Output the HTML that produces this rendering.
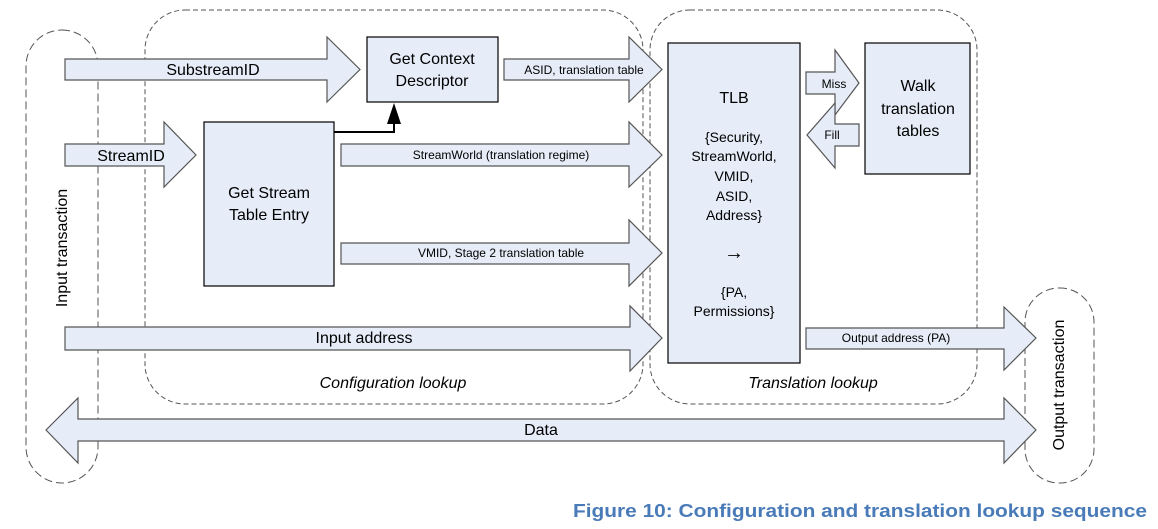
<!DOCTYPE html>
<html><head><meta charset="utf-8"><style>
html,body{margin:0;padding:0;background:#fff;}
svg{display:block;font-family:"Liberation Sans",Arial,sans-serif;}
</style></head><body>
<svg width="1158" height="529" viewBox="0 0 1158 529" xmlns="http://www.w3.org/2000/svg">
<g fill="none" stroke="#555" stroke-width="1" stroke-dasharray="5,3">
<rect x="26" y="30" width="72" height="453" rx="36" ry="36" stroke-dasharray="8,4"/>
<rect x="145" y="10" width="498" height="394" rx="40" ry="40"/>
<rect x="650" y="10" width="327" height="394" rx="40" ry="40"/>
<rect x="1025" y="288" width="69" height="195" rx="34" ry="34" stroke-dasharray="8,4"/>
</g>
<g fill="#e6edf8" stroke="#555" stroke-width="1.2">
<polygon points="65,59 327,59 327,37 360,69.5 327,102 327,80 65,80"/>
<polygon points="65,144 164,144 164,122 196,155 164,187 164,166 65,166"/>
<polygon points="504,59 629,59 629,37 662,69.5 629,102 629,80 504,80"/>
<polygon points="341,144 629,144 629,122 662,155 629,187 629,166 341,166"/>
<polygon points="341,243 629,243 629,220 662,253 629,286 629,264 341,264"/>
<polygon points="65,327 630,327 630,306 662,338 630,371 630,350 65,350"/>
<polygon points="806,72 835,72 835,50 859,83 835,115 835,94 806,94"/>
<polygon points="859,124 835,124 835,103 807,135 835,168 835,146 859,146"/>
<polygon points="806,328 1004,328 1004,307 1036,338 1004,370 1004,349 806,349"/>
<polygon points="46,430 78,398 78,419 1004,419 1004,398 1036,430 1004,463 1004,441 78,441 78,463"/>
</g>
<g fill="#e6edf8" stroke="#000" stroke-width="1.2">
<rect x="367" y="37" width="131" height="65"/>
<rect x="204" y="122" width="130" height="164"/>
<rect x="668" y="43" width="132" height="320"/>
<rect x="865" y="43" width="105" height="131"/>
</g>
<polyline points="334,132 394,132 394,118" fill="none" stroke="#000" stroke-width="2"/>
<polygon points="387,124 401,124 394,103" fill="#000"/>
<g fill="#000" text-anchor="middle">
<text x="213" y="75" font-size="16">SubstreamID</text>
<text x="131" y="161" font-size="16">StreamID</text>
<text x="432" y="64" font-size="16">Get Context</text>
<text x="432" y="86" font-size="16">Descriptor</text>
<text x="269" y="198" font-size="16">Get Stream</text>
<text x="269" y="220" font-size="16">Table Entry</text>
<text x="584" y="74" font-size="12">ASID, translation table</text>
<text x="501" y="159" font-size="12">StreamWorld (translation regime)</text>
<text x="501" y="257" font-size="12">VMID, Stage 2 translation table</text>
<text x="364" y="343" font-size="16">Input address</text>
<text x="896" y="342" font-size="12">Output address (PA)</text>
<text x="541" y="435" font-size="16">Data</text>
<text x="834" y="88" font-size="12">Miss</text>
<text x="832" y="139" font-size="12">Fill</text>
<text x="734" y="103" font-size="16">TLB</text>
<g font-size="14">
<text x="734" y="142">{Security,</text>
<text x="734" y="161">StreamWorld,</text>
<text x="734" y="181">VMID,</text>
<text x="734" y="201">ASID,</text>
<text x="734" y="220">Address}</text>
<text x="734" y="259" font-size="20" font-weight="bold">→</text>
<text x="734" y="297">{PA,</text>
<text x="734" y="316">Permissions}</text>
</g>
<text x="918" y="91" font-size="16">Walk</text>
<text x="918" y="114" font-size="16">translation</text>
<text x="918" y="136" font-size="16">tables</text>
<text x="393" y="388" font-size="16" font-style="italic">Configuration lookup</text>
<text x="813" y="388" font-size="16" font-style="italic">Translation lookup</text>
<text transform="translate(67,248) rotate(-90)" font-size="16">Input transaction</text>
<text transform="translate(1064,385) rotate(-90)" font-size="16">Output transaction</text>
</g>
<text x="573" y="517" font-size="18" font-weight="bold" fill="#4a7bb9" textLength="574" lengthAdjust="spacingAndGlyphs">Figure 10: Configuration and translation lookup sequence</text>
</svg>
</body></html>
